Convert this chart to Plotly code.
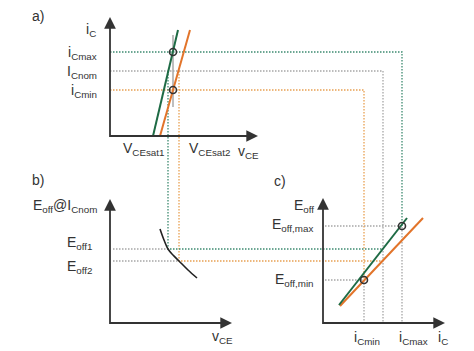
import plotly.graph_objects as go

# ---- schematic coordinates (figure pixel space) ----
# panel a) output characteristics
green_a_x = [153, 178]; green_a_y = [136, 30]
orange_a_x = [160, 190]; orange_a_y = [136, 30]
gray_a_x = [173, 173]; gray_a_y = [35, 107]
circles_a_x = [173, 173]; circles_a_y = [52, 90]

# panel b) Eoff vs vCE curve
curve_b_x = [160, 164, 168, 173, 179, 188, 197]
curve_b_y = [229, 240, 249, 255, 261, 270, 278]

# panel c) Eoff vs iC
green_c_x = [339, 407]; green_c_y = [305, 218]
orange_c_x = [340, 423]; orange_c_y = [306, 218]
circles_c_x = [364, 402]; circles_c_y = [280, 226]

# dotted projection paths
dot_green = [([110, 402, 402], [52, 52, 226]),
             ([168, 168, 383], [71, 249, 249])]
dot_orange = [([110, 364, 364], [90, 90, 280]),
              ([179, 179, 383], [71, 261, 261])]
dot_gray = [([110, 383, 383], [71, 71, 323]),
            ([113, 168], [249, 249]),
            ([113, 179], [261, 261]),
            ([325, 402, 402], [226, 226, 323]),
            ([325, 364, 364], [280, 280, 323])]

# axes: (origin x, origin y, x tip, y tip)
axes_def = [(110, 136, 258, 17), (110, 323, 232, 199), (323, 323, 445, 198)]

# labels: text, x, y, xanchor
labels = [
    ("a)", 30, 16, "left"),
    ("i<sub>C</sub>", 98, 30, "right"),
    ("i<sub>Cmax</sub>", 99, 53, "right"),
    ("I<sub>Cnom</sub>", 99, 72, "right"),
    ("i<sub>Cmin</sub>", 99, 91, "right"),
    ("V<sub>CEsat1</sub>", 143, 149, "center"),
    ("V<sub>CEsat2</sub>", 209, 149, "center"),
    ("v<sub>CE</sub>", 248, 152, "center"),
    ("b)", 30, 180, "left"),
    ("E<sub>off</sub>@I<sub>Cnom</sub>", 31, 206, "left"),
    ("E<sub>off1</sub>", 95, 243, "right"),
    ("E<sub>off2</sub>", 95, 267, "right"),
    ("v<sub>CE</sub>", 222, 337, "center"),
    ("c)", 272, 181, "left"),
    ("E<sub>off</sub>", 292, 206, "left"),
    ("E<sub>off,max</sub>", 315, 225, "right"),
    ("E<sub>off,min</sub>", 316, 280, "right"),
    ("i<sub>Cmin</sub>", 367, 338, "center"),
    ("i<sub>Cmax</sub>", 413, 338, "center"),
    ("i<sub>C</sub>", 443, 338, "center"),
]

GREEN = "#1e6b45"
ORANGE = "#e2742a"
GREEN_DOT = "#3d8a70"
ORANGE_DOT = "#e8a052"
GRAY_DOT = "#a6a6a6"
AX = "#333333"
DOT = "1.5px,1.5px"

fig = go.Figure()

def line(x, y, color, width, dash="solid", shape="linear"):
    fig.add_trace(go.Scatter(x=x, y=y, mode="lines",
                             line=dict(color=color, width=width, dash=dash, shape=shape),
                             hoverinfo="skip", showlegend=False))

for px, py in dot_gray:
    line(px, py, GRAY_DOT, 1.3, DOT)
for px, py in dot_orange:
    line(px, py, ORANGE_DOT, 1.3, DOT)
for px, py in dot_green:
    line(px, py, GREEN_DOT, 1.3, DOT)

line(gray_a_x, gray_a_y, "#a8a8a8", 1.5)
line(green_a_x, green_a_y, GREEN, 2)
line(orange_a_x, orange_a_y, ORANGE, 2)
line(curve_b_x, curve_b_y, "#222222", 1.6, shape="spline")
line(orange_c_x, orange_c_y, ORANGE, 2)
line(green_c_x, green_c_y, GREEN, 2)

for cx, cy in [(circles_a_x, circles_a_y), (circles_c_x, circles_c_y)]:
    fig.add_trace(go.Scatter(x=cx, y=cy, mode="markers",
                             marker=dict(symbol="circle-open", size=7, color="#333333",
                                         line=dict(color="#333333", width=1.6)),
                             hoverinfo="skip", showlegend=False))

annotations = []
for ox, oy, tx, ty in axes_def:
    line([ox, ox, tx - 6], [ty + 6, oy, oy], AX, 1.8)
    for (x, y, ax, ay) in [(tx, oy, tx - 8, oy), (ox, ty, ox, ty + 8)]:
        annotations.append(dict(x=x, y=y, ax=ax, ay=ay, xref="x", yref="y",
                                axref="x", ayref="y", showarrow=True, text="",
                                arrowhead=2, arrowsize=1.3, arrowwidth=1.8,
                                arrowcolor=AX))

for t, x, y, xa in labels:
    annotations.append(dict(text=t, x=x, y=y, xref="x", yref="y", showarrow=False,
                            xanchor=xa, yanchor="middle",
                            font=dict(family="Liberation Sans, Arial, sans-serif",
                                      size=14, color="#333333")))

fig.update_layout(
    width=474, height=351, margin=dict(l=0, r=0, t=0, b=0),
    paper_bgcolor="white", plot_bgcolor="white",
    xaxis=dict(range=[0, 474], visible=False, fixedrange=True),
    yaxis=dict(range=[351, 0], visible=False, fixedrange=True),
    annotations=annotations,
)

fig.write_html("out.html", config={"displayModeBar": False})
